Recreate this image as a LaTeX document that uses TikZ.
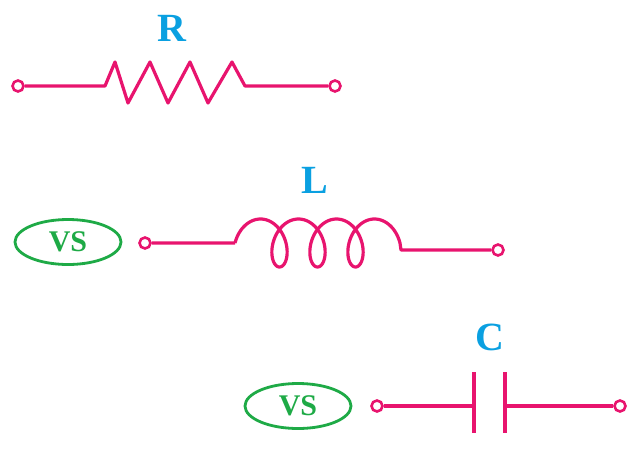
\documentclass[tikz,border=0pt]{standalone}
\usetikzlibrary{shapes.geometric}
\usepackage{fontspec}
\setmainfont{Liberation Serif}
\begin{document}
\begin{tikzpicture}[x=1pt,y=-1pt]
\definecolor{wire}{RGB}{232,20,110}
\definecolor{lbl}{RGB}{10,160,225}
\definecolor{vsg}{RGB}{30,170,70}
\tikzset{w/.style={draw=wire,line width=3.2pt,line join=round},
term/.style={circle,draw=wire,fill=white,line width=2.6pt,minimum size=11pt,inner sep=0pt},
lab/.style={text=lbl,font=\bfseries\fontsize{40}{40}\selectfont},
vs/.style={ellipse,draw=vsg,line width=2.8pt,minimum width=106pt,minimum height=45pt,inner sep=0pt,text=vsg,font=\bfseries\fontsize{30}{30}\selectfont}}
\useasboundingbox (0,0) rectangle (640,450);
% R
\node[lab] (R) at (172,28) {R};
\coordinate (r1) at (105,86); \coordinate (r2) at (245,86);
\node[term] (ra) at (18,86) {}; \node[term] (rb) at (335,86) {};
\draw[w] (ra) -- (r1) -- (115,62) -- (128,103) -- (150,62) -- (168,103) -- (190,62) -- (208,103) -- (232,62) -- (r2) -- (rb);
% L
\node[lab] (L) at (315,180) {L};
\node[vs] (vs1) at (68,242) {VS};
\node[term] (la) at (145,243) {}; \node[term] (lb) at (498,250) {};
\coordinate (l1) at (235,243); \coordinate (l2) at (401,243);
\draw[w] (la) -- (l1) plot[domain=-90:1170,samples=240,smooth,variable=\t] ({260.5+\t/360*38+16*sin(\t)},{243-24*cos(\t)}) -- (401,250) -- (lb);
% C
\node[lab] (C) at (490,337) {C};
\node[vs] (vs2) at (298,406) {VS};
\node[term] (ca) at (377,406) {}; \node[term] (cb) at (620,406) {};
\coordinate (c1) at (474,406); \coordinate (c2) at (505,406);
\draw[w] (ca) -- (c1); \draw[w] (c2) -- (cb);
\draw[w] (474,372) -- (474,433); \draw[w] (505,372) -- (505,433);
\end{tikzpicture}
\end{document}
